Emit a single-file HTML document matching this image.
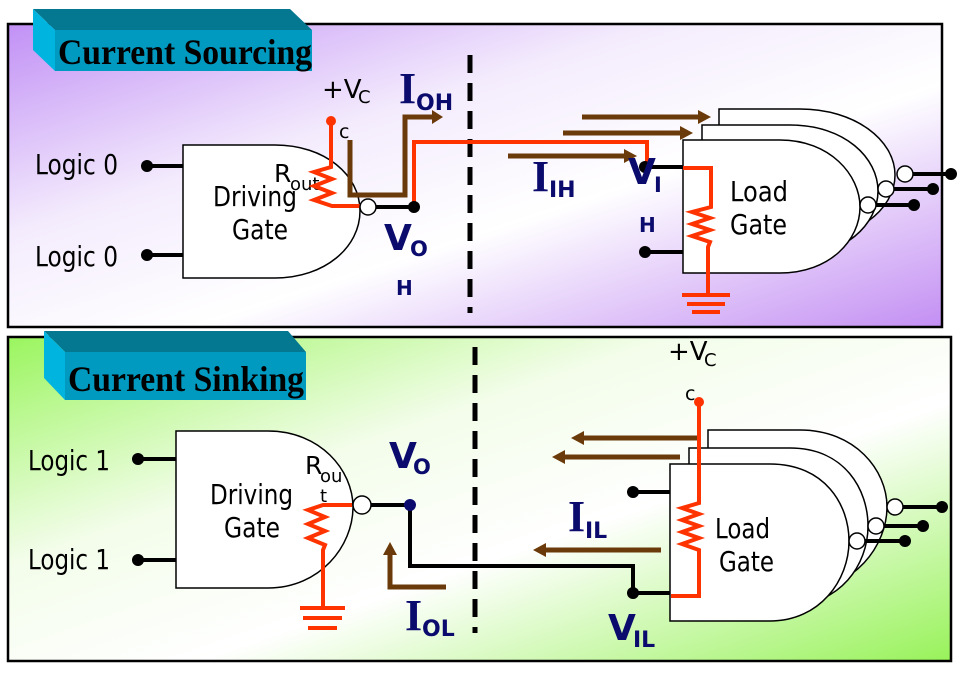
<!DOCTYPE html>
<html><head><meta charset="utf-8"><style>
html,body{margin:0;padding:0;background:#fff;width:970px;height:675px;overflow:hidden}
svg{display:block}
</style></head><body>
<svg width="970" height="675" viewBox="0 0 970 675" xmlns="http://www.w3.org/2000/svg">
<defs>
<linearGradient id="pg" x1="0" y1="0" x2="1" y2="1">
<stop offset="0" stop-color="#c190f5"/><stop offset="0.35" stop-color="#f4ecfd"/><stop offset="0.6" stop-color="#ffffff"/><stop offset="1" stop-color="#c38ff3"/></linearGradient>
<linearGradient id="gg" x1="0" y1="0" x2="1" y2="1">
<stop offset="0" stop-color="#9af55e"/><stop offset="0.35" stop-color="#f3fdea"/><stop offset="0.6" stop-color="#ffffff"/><stop offset="1" stop-color="#98f25a"/></linearGradient>
</defs>
<g style="font-family:'DejaVu Sans','Liberation Sans',sans-serif">
<!-- TOP PANEL -->
<rect x="8" y="24" width="934" height="303" fill="url(#pg)" stroke="#000" stroke-width="2.5"/>
<polygon points="33,9 290,9 312,30 55,30" fill="#047890"/>
<polygon points="33,9 55,30 55,71 33,50" fill="#00b4e0"/>
<rect x="55" y="30" width="257" height="41" fill="#0099c0"/>
<text x="58" y="64" style="font-family:'Liberation Serif',serif;font-weight:bold;font-size:36px" textLength="254" lengthAdjust="spacingAndGlyphs">Current Sourcing</text>

<line x1="470" y1="55" x2="470" y2="313" stroke="#000" stroke-width="5" stroke-dasharray="18,10"/>

<line x1="147" y1="166" x2="183" y2="166" stroke="#000" stroke-width="4"/><circle cx="147" cy="166" r="6"/>
<line x1="147" y1="255" x2="183" y2="255" stroke="#000" stroke-width="4"/><circle cx="147" cy="255" r="6"/>
<path d="M183,145 L275,145 C325,145 360,175 360,211 C360,247 325,278 275,278 L183,278 Z" fill="#fff" stroke="#000" stroke-width="1.5"/>
<text x="35" y="174" style="font-size:28px" textLength="83" lengthAdjust="spacingAndGlyphs">Logic 0</text>
<text x="35" y="266" style="font-size:28px" textLength="83" lengthAdjust="spacingAndGlyphs">Logic 0</text>
<text x="213" y="206" style="font-size:28px" textLength="84" lengthAdjust="spacingAndGlyphs">Driving</text>
<text x="232" y="239" style="font-size:28px" textLength="56" lengthAdjust="spacingAndGlyphs">Gate</text>
<text x="274" y="182" style="font-size:25px">R</text><text x="290" y="190" style="font-size:18px">out</text>
<path d="M331,121 L331,167 L314,172 L332,179 L314,186 L332,193 L314,200 L332,206 L360,206" stroke="#ff3300" stroke-width="4" fill="none"/>
<circle cx="331" cy="121" r="5" fill="#ff3300"/>
<text x="339" y="138" style="font-size:19px">c</text>
<circle cx="368" cy="207" r="8" fill="#fff" stroke="#000" stroke-width="1.5"/>
<line x1="376" y1="207" x2="414" y2="207" stroke="#000" stroke-width="4"/>
<path d="M350,140 L350,195 L405,195 L405,117 L433,117" stroke="#6b3a0a" stroke-width="5" fill="none"/>
<polygon points="432,110 443,117 432,124" fill="#6b3a0a"/>
<path d="M414,207 L414,142 L647,142 L647,165" stroke="#ff3300" stroke-width="4" fill="none"/>
<circle cx="414" cy="207" r="6"/>
<text x="322" y="98" style="font-size:26px">+V</text><text x="358" y="103" style="font-size:18px">C</text>
<text x="399" y="103" style="font-family:'Liberation Serif',serif;font-weight:bold;font-size:44px;fill:#0b0b6e">I</text><text x="416" y="110" style="font-weight:bold;font-size:22px;fill:#0b0b6e">OH</text>
<text x="384" y="250" style="font-weight:bold;font-size:36px;fill:#0b0b6e">V</text><text x="410" y="256" style="font-weight:bold;font-size:21px;fill:#0b0b6e">O</text>
<text x="396" y="295" style="font-weight:bold;font-size:20px;fill:#0b0b6e">H</text>

<path d="M719,109 L800,109 C855,109 895,140 895,175 C895,210 855,241 800,241 L719,241 Z" fill="#fff" stroke="#000" stroke-width="1.5"/>
<path d="M702,125 L790,125 C845,125 878,158 878,191 C878,224 845,257 790,257 L702,257 Z" fill="#fff" stroke="#000" stroke-width="1.5"/>
<path d="M683,140 L780,140 C830,140 860,175 860,207 C860,240 830,273 780,273 L683,273 Z" fill="#fff" stroke="#000" stroke-width="1.5"/>
<circle cx="905" cy="174" r="8" fill="#fff" stroke="#000" stroke-width="1.5"/>
<circle cx="886" cy="189" r="8" fill="#fff" stroke="#000" stroke-width="1.5"/>
<circle cx="868" cy="205" r="8" fill="#fff" stroke="#000" stroke-width="1.5"/>
<line x1="913" y1="174" x2="951" y2="174" stroke="#000" stroke-width="4"/><circle cx="951" cy="174" r="6"/>
<line x1="894" y1="189" x2="933" y2="189" stroke="#000" stroke-width="4"/><circle cx="933" cy="189" r="6"/>
<line x1="876" y1="205" x2="914" y2="205" stroke="#000" stroke-width="4"/><circle cx="914" cy="205" r="6"/>
<line x1="645" y1="167" x2="683" y2="167" stroke="#000" stroke-width="4"/><circle cx="645" cy="167" r="6"/>
<line x1="645" y1="252" x2="683" y2="252" stroke="#000" stroke-width="4"/><circle cx="645" cy="252" r="6"/>
<path d="M683,168 L711,168 L711,207 L692,212 L710,218 L692,224 L710,230 L692,236 L710,242 L708,247 L708,295" stroke="#ff3300" stroke-width="4" fill="none"/>
<line x1="682" y1="295" x2="730" y2="295" stroke="#ff3300" stroke-width="4"/>
<line x1="687" y1="304" x2="725" y2="304" stroke="#ff3300" stroke-width="4"/>
<line x1="692" y1="312" x2="720" y2="312" stroke="#ff3300" stroke-width="4"/>
<text x="730" y="201" style="font-size:28px" textLength="58" lengthAdjust="spacingAndGlyphs">Load</text><text x="730" y="234" style="font-size:28px" textLength="57" lengthAdjust="spacingAndGlyphs">Gate</text>
<line x1="582" y1="117" x2="700" y2="117" stroke="#6b3a0a" stroke-width="5"/><polygon points="698,110 711,117 698,124" fill="#6b3a0a"/>
<line x1="563" y1="133" x2="682" y2="133" stroke="#6b3a0a" stroke-width="5"/><polygon points="680,126 693,133 680,140" fill="#6b3a0a"/>
<line x1="508" y1="156" x2="626" y2="156" stroke="#6b3a0a" stroke-width="5"/><polygon points="624,149 637,156 624,163" fill="#6b3a0a"/>
<text x="532" y="191" style="font-family:'Liberation Serif',serif;font-weight:bold;font-size:44px;fill:#0b0b6e">I</text><text x="549" y="197" style="font-weight:bold;font-size:22px;fill:#0b0b6e">IH</text>
<text x="628" y="184" style="font-weight:bold;font-size:36px;fill:#0b0b6e">V</text><text x="654" y="192" style="font-weight:bold;font-size:21px;fill:#0b0b6e">I</text>
<text x="639" y="232" style="font-weight:bold;font-size:20px;fill:#0b0b6e">H</text>

<!-- BOTTOM PANEL -->
<rect x="8" y="337" width="943" height="324" fill="url(#gg)" stroke="#000" stroke-width="2.5"/>
<polygon points="44,331 288,331 306,352 65,352" fill="#047890"/>
<polygon points="44,331 65,352 65,400 44,378" fill="#00b4e0"/>
<rect x="65" y="352" width="241" height="48" fill="#0099c0"/>
<text x="68" y="391" style="font-family:'Liberation Serif',serif;font-weight:bold;font-size:36px" textLength="236" lengthAdjust="spacingAndGlyphs">Current Sinking</text>

<line x1="475" y1="347" x2="475" y2="633" stroke="#000" stroke-width="5" stroke-dasharray="18,10"/>

<line x1="138" y1="459" x2="176" y2="459" stroke="#000" stroke-width="4"/><circle cx="138" cy="459" r="6"/>
<line x1="138" y1="560" x2="176" y2="560" stroke="#000" stroke-width="4"/><circle cx="138" cy="560" r="6"/>
<path d="M176,431 L268,431 C320,431 353,470 353,507 C353,546 320,588 268,588 L176,588 Z" fill="#fff" stroke="#000" stroke-width="1.5"/>
<text x="28" y="470" style="font-size:28px" textLength="82" lengthAdjust="spacingAndGlyphs">Logic 1</text>
<text x="28" y="569" style="font-size:28px" textLength="82" lengthAdjust="spacingAndGlyphs">Logic 1</text>
<text x="210" y="504" style="font-size:28px" textLength="83" lengthAdjust="spacingAndGlyphs">Driving</text>
<text x="224" y="537" style="font-size:28px" textLength="56" lengthAdjust="spacingAndGlyphs">Gate</text>
<text x="305" y="474" style="font-size:25px">R</text><text x="320" y="482" style="font-size:18px">ou</text><text x="320" y="502" style="font-size:18px">t</text>
<path d="M352,505 L323,505 L308,510 L325,517 L308,524 L325,531 L308,538 L325,545 L323,550 L323,607" stroke="#ff3300" stroke-width="4" fill="none"/>
<line x1="300" y1="608" x2="345" y2="608" stroke="#ff3300" stroke-width="4"/>
<line x1="303" y1="618" x2="342" y2="618" stroke="#ff3300" stroke-width="4"/>
<line x1="308" y1="628" x2="337" y2="628" stroke="#ff3300" stroke-width="4"/>
<circle cx="362" cy="505" r="9" fill="#fff" stroke="#000" stroke-width="1.5"/>
<line x1="371" y1="505" x2="410" y2="505" stroke="#000" stroke-width="4"/>
<path d="M410,505 L410,566 L633,566 L633,593" stroke="#000" stroke-width="4" fill="none"/>
<circle cx="410" cy="505" r="6" fill="#0b0b6e"/>
<path d="M446,587 L390,587 L390,553" stroke="#6b3a0a" stroke-width="5" fill="none"/><polygon points="383,555 390,542 397,555" fill="#6b3a0a"/>
<text x="389" y="468" style="font-weight:bold;font-size:36px;fill:#0b0b6e">V</text><text x="413" y="474" style="font-weight:bold;font-size:21px;fill:#0b0b6e">O</text>
<text x="405" y="630" style="font-family:'Liberation Serif',serif;font-weight:bold;font-size:44px;fill:#0b0b6e">I</text><text x="422" y="636" style="font-weight:bold;font-size:22px;fill:#0b0b6e">OL</text>

<path d="M708,430 L800,430 C855,430 887,470 887,507 C887,545 855,590 800,590 L708,590 Z" fill="#fff" stroke="#000" stroke-width="1.5"/>
<path d="M689,448 L790,448 C845,448 868,490 868,526 C868,565 840,605 790,605 L689,605 Z" fill="#fff" stroke="#000" stroke-width="1.5"/>
<path d="M670,464 L770,464 C825,464 849,505 849,541 C849,580 820,621 770,621 L670,621 Z" fill="#fff" stroke="#000" stroke-width="1.5"/>
<circle cx="895" cy="507" r="8" fill="#fff" stroke="#000" stroke-width="1.5"/>
<circle cx="876" cy="526" r="8" fill="#fff" stroke="#000" stroke-width="1.5"/>
<circle cx="857" cy="541" r="8" fill="#fff" stroke="#000" stroke-width="1.5"/>
<line x1="903" y1="507" x2="942" y2="507" stroke="#000" stroke-width="4"/><circle cx="942" cy="507" r="6"/>
<line x1="884" y1="526" x2="923" y2="526" stroke="#000" stroke-width="4"/><circle cx="923" cy="526" r="6"/>
<line x1="865" y1="541" x2="905" y2="541" stroke="#000" stroke-width="4"/><circle cx="905" cy="541" r="6"/>
<line x1="633" y1="492" x2="670" y2="492" stroke="#000" stroke-width="4"/><circle cx="633" cy="492" r="6"/>
<line x1="633" y1="593" x2="670" y2="593" stroke="#000" stroke-width="4"/><circle cx="633" cy="593" r="6"/>
<path d="M699,402 L699,503 L682,508 L699,514 L682,520 L699,526 L682,532 L699,538 L682,544 L699,550 L699,596 L671,596" stroke="#ff3300" stroke-width="4" fill="none"/>
<circle cx="699" cy="402" r="5" fill="#ff3300"/>
<text x="668" y="360" style="font-size:26px">+V</text><text x="704" y="366" style="font-size:18px">C</text>
<text x="685" y="400" style="font-size:19px">c</text>
<text x="715" y="538" style="font-size:28px" textLength="55" lengthAdjust="spacingAndGlyphs">Load</text><text x="719" y="571" style="font-size:28px" textLength="55" lengthAdjust="spacingAndGlyphs">Gate</text>
<line x1="697" y1="438" x2="582" y2="438" stroke="#6b3a0a" stroke-width="5"/><polygon points="584,431 571,438 584,445" fill="#6b3a0a"/>
<line x1="680" y1="457" x2="563" y2="457" stroke="#6b3a0a" stroke-width="5"/><polygon points="565,450 552,457 565,464" fill="#6b3a0a"/>
<line x1="661" y1="550" x2="544" y2="550" stroke="#6b3a0a" stroke-width="5"/><polygon points="546,543 533,550 546,557" fill="#6b3a0a"/>
<text x="568" y="531" style="font-family:'Liberation Serif',serif;font-weight:bold;font-size:44px;fill:#0b0b6e">I</text><text x="585" y="538" style="font-weight:bold;font-size:22px;fill:#0b0b6e">IL</text>
<text x="608" y="640" style="font-weight:bold;font-size:36px;fill:#0b0b6e">V</text><text x="633" y="647" style="font-weight:bold;font-size:22px;fill:#0b0b6e">IL</text>
</g>
</svg>
</body></html>
